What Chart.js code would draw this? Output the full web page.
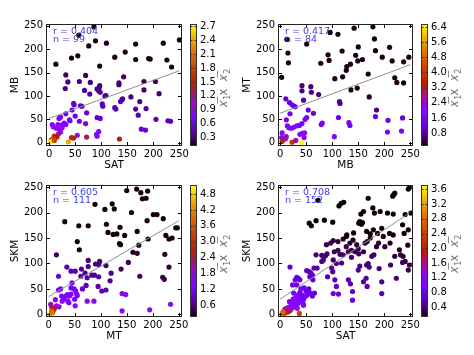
<!DOCTYPE html>
<html><head><meta charset="utf-8">
<script src="https://cdn.jsdelivr.net/npm/chart.js@4/dist/chart.umd.min.js"></script>
<style>
html,body{margin:0;padding:0;background:#fff}
#wrap{position:relative;width:474px;height:355px;overflow:hidden;background:#fff}
#wrap canvas{position:absolute;left:0;top:0}
</style></head><body>
<div id="wrap">
<canvas id="c1" width="474" height="355"></canvas>
<canvas id="c2" width="474" height="355"></canvas>
<canvas id="c3" width="474" height="355"></canvas>
<canvas id="c4" width="474" height="355"></canvas>
</div>
<script>
// ---------- data: [x, y, colour value] ----------
const satMb = [
[86,248,.15],[57,230,.15],[89,218,.15],[76,207,.15],[110,213,.15],[166,211,.15],[219,213,.15],[250,220,.15],[43,181,.15],[55,186,.15],[13,168,.15],[126,183,.15],[146,194,.15],[166,178,.15],[191,180,.15],[194,179,.15],[226,177,.15],[235,162,.15],[97,164,.15],
[32,145,.28],[70,144,.28],[36,130,.32],[58,131,.32],[79,129,.32],[31,116,.38],[97,122,.32],[96,117,.33],[92,115,.36],[95,111,.37],[98,108,.38],[134,128,.32],[134,124,.33],[143,141,.28],[78,104,.42],[68,112,.38],[109,101,.38],[107,100,.38],[157,98,.34],[140,92,.38],[137,88,.42],[141,94,.38],[182,131,.25],[204,131,.25],[211,105,.3],[182,113,.3],[174,88,.34],[186,73,.4],[166,72,.4],[126,75,.45],[128,72,.45],[102,83,.45],[103,78,.45],
[47,84,.55],[48,81,.55],[60,79,.5],[63,78,.5],[44,70,.6],[32,62,.65],[22,55,.72],[19,52,.72],[39,49,.68],[29,42,.75],[26,39,.8],[40,47,.7],[17,39,.85],[6,39,.85],[8,34,.9],[14,31,.9],[25,32,.85],[32,39,.8],[50,57,.62],[58,46,.68],[72,64,.55],[70,41,.68],[92,54,.55],[98,52,.55],[171,59,.45],[205,50,.45],[228,47,.45],[233,46,.45],[177,29,.55],[185,27,.55],
[54,16,1.0],[95,24,.8],[91,18,.9],[92,14,.9],[72,12,1.3],[43,11,1.5],[47,10,1.5],[135,8,1.4],[20,29,.95],[22,23,1.0],[18,19,1.1],[10,14,1.5],[15,12,1.4],[8,9,1.7],[4,6,1.9],[6,5,2.0],[3,2,2.7],[37,2,2.4],[10,5,1.8]
];
const mbMt = [
[178,248,.2],[142,245,.2],[96,236,.2],[111,232,.2],[13,221,.2],[181,222,.2],[51,211,.2],[210,204,.2],[150,205,.2],[15,192,.2],[119,196,.2],[92,188,.2],[145,187,.2],[183,197,.2],[158,178,.2],[149,175,.2],[94,176,.2],[196,183,.2],[215,175,.2],[247,183,.2],[237,173,.2],[16,171,.2],[78,170,.2],[135,168,.2],[128,163,.2],[127,155,.2],[169,147,.2],[120,141,.2],[105,137,.2],[3,140,.2],[220,139,.2],[224,129,.2],[237,128,.2],[148,117,.2],[136,113,.2],[171,98,.25],
[42,122,.6],[59,120,.6],[42,111,.65],[60,108,.65],[74,103,.65],[45,91,.8],[185,70,.7],[114,88,.8],[115,84,.8],
[11,94,1.1],[18,86,1.2],[23,81,1.3],[27,78,1.3],[29,77,1.3],[19,62,1.5],[54,70,1.2],[64,63,1.3],[183,56,1.2],[112,54,1.3],[132,43,1.4],[134,37,1.4],[81,42,1.5],[79,39,1.5],[207,48,1.3],[235,53,1.2],[206,23,1.6],[233,25,1.6],[104,13,1.8],
[51,54,1.5],[48,50,1.5],[42,41,1.7],[37,37,1.7],[32,36,1.7],[26,33,1.8],[21,31,1.8],[17,32,1.8],[12,49,1.6],[14,36,1.8],[47,21,1.9],[46,11,2.1],[38,18,2.0],[43,20,2.0],[4,21,2.0],[3,11,2.2],[12,13,2.3],[10,8,2.6],[4,3,3.6],[23,1,3.9],[30,5,2.6],[41,0,6.5]
];
const mtSkm = [
[150,243,.2],[169,246,.2],[177,239,.2],[190,242,.2],[180,227,.2],[187,228,.2],[89,216,.2],[122,217,.2],[108,206,.2],[126,207,.2],[159,200,.2],[201,196,.2],[208,196,.2],[31,182,.2],[58,174,.2],[76,174,.2],[111,177,.2],[137,171,.2],[189,184,.2],[220,188,.2],[170,163,.2],[114,161,.2],[124,157,.2],[131,158,.2],[146,155,.2],[136,139,.2],[138,137,.2],[191,148,.2],[225,155,.2],[231,148,.2],[237,150,.2],[244,170,.2],[247,170,.2],[173,136,.2],[162,122,.2],[55,143,.2],[59,127,.2],[15,117,.45],[170,120,.3],[223,118,.3],
[231,93,.35],[219,73,.4],[222,69,.4],[175,75,.5],[153,102,.45],[139,89,.5],[98,104,.5],[96,98,.55],[90,99,.55],[110,96,.5],[120,81,.6],[118,66,.65],[102,46,.8],[110,48,.8],[96,74,.65],[83,77,.65],[88,77,.65],[76,106,.55],[76,94,.6],[63,89,.65],[62,75,.7],[70,81,.65],[74,72,.7],[72,57,.8],[65,50,.9],[95,55,.75],[43,85,.8],[35,93,.75],[51,85,.75],[19,75,1.0],
[74,26,1.6],[87,26,1.6],[141,41,1.5],[148,39,1.5],[234,20,1.6],[194,9,1.7],[141,7,1.7],[45,62,1.1],[43,52,1.2],[49,50,1.2],[52,46,1.2],[54,40,1.3],[55,37,1.3],[43,40,1.3],[40,36,1.35],[36,39,1.35],[33,36,1.4],[37,26,1.5],[39,23,1.5],[50,30,1.4],[51,17,1.6],[29,31,1.5],[26,26,1.6],[25,36,1.45],[19,48,1.35],[23,50,1.3],[13,29,1.7],[15,17,1.9],[20,15,1.9],[11,11,2.2],[6,14,2.3],[4,20,2.1],[9,9,2.6],[8,5,3.2],[4,2,4.6],[0,0,5.0],[6,7,3.6],[7,3,4.0]
];
const satSkm = [
[2,1,3.6],[5,3,3.0],[8,2,2.6],[11,4,2.2],[15,5,2.0],[18,7,1.9],[13,8,2.0],[9,10,1.8],[6,6,2.8],[37,2,2.4],[20,9,1.7],[12,12,1.6],
[16,14,1.4],[20,16,1.3],[24,13,1.3],[22,20,1.2],[26,22,1.2],[28,18,1.2],[30,25,1.1],[33,20,1.1],[35,28,1.0],[38,24,1.0],[30,33,1.0],[40,32,.9],[42,38,.9],[45,30,.9],[44,22,1.0],[48,35,.85],[25,30,1.1],[34,38,.95],[18,25,1.2],[26,42,.95],[38,43,.9],[50,45,.8],[52,38,.8],[55,50,.75],[46,52,.8],[40,50,.85],[36,30,1.0],[58,42,.75],[62,36,.75],[66,42,.7],[45,18,1.0],[33,12,1.3],
[19,93,.7],[24,58,.8],[32,58,.8],[38,68,.75],[32,73,.75],[29,68,.8],[35,71,.75],[51,86,.6],[56,84,.6],[59,81,.6],[62,77,.6],[57,74,.65],[63,68,.65],[65,91,.55],[71,91,.55],[80,104,.45],[83,107,.45],[91,74,.55],[102,107,.4],[108,100,.45],[99,91,.5],[101,84,.5],[118,101,.45],[121,117,.4],[137,112,.4],[105,68,.6],[108,55,.7],[102,41,.75],[112,40,.75],[131,68,.55],[135,60,.6],[139,45,.65],[139,28,.75],[160,64,.5],[165,71,.5],[167,55,.55],[150,87,.45],[153,95,.45],[176,114,.35],[180,117,.35],[166,97,.4],[169,100,.4],[171,93,.4],[190,90,.4],[195,64,.45],[212,97,.35],[223,71,.4],[195,41,.55],[248,97,.3],[246,87,.3],[240,104,.3],[235,102,.35],
[69,117,.4],[80,116,.4],[87,115,.4],[90,119,.4],[104,123,.35],[111,126,.35],[115,118,.35],[127,133,.3],[131,123,.3],[137,126,.3],[144,123,.3],[150,129,.3],[151,119,.3],[163,140,.25],[167,143,.25],[173,150,.2],[160,123,.3],[185,133,.25],[189,140,.25],[201,133,.25],[211,140,.2],[220,114,.25],[229,127,.2],[231,117,.25],[236,114,.25],[89,137,.3],[97,140,.3],[102,145,.25],[111,143,.25],[121,148,.2],[127,153,.2],[134,140,.25],[140,146,.2],[147,137,.25],[166,163,.15],[173,158,.15],[179,166,.15],[187,159,.15],[195,169,.15],[198,153,.2],[210,159,.15],[217,156,.15],[235,176,.15],[238,159,.15],[246,166,.15],[245,136,.2],
[73,224,.14],[113,213,.14],[117,218,.14],[122,220,.14],[169,228,.14],[216,232,.14],[218,235,.14],[220,238,.14],[246,246,.14],[248,249,.14],[56,179,.14],[60,174,.14],[69,184,.14],[85,185,.14],[101,181,.14],[151,179,.14],[153,182,.14],[156,177,.14],[158,180,.14],[155,197,.14],[160,202,.14],[178,209,.14],[181,199,.14],[192,202,.14],[206,199,.14],[217,197,.14],[240,196,.14],[251,199,.14],[128,156,.15],[141,160,.15]
];
// fitted lines (y at x = 0 and x = 250)
const lineX = [0, 250];
const fit1 = [52, 154], fit2 = [63, 167], fit3 = [35, 184], fit4 = [30, 200];
const stats1 = ['r = 0.404', 'n = 99'], stats2 = ['r = 0.417', 'n = 84'];
const stats3 = ['r = 0.605', 'n = 111'], stats4 = ['r = 0.708', 'n = 152'];
const axisTicks = [0, 50, 100, 150, 200, 250];
const cbTicks1 = [0.3,0.6,0.9,1.2,1.5,1.8,2.1,2.4,2.7], cbRange1 = [0.12, 2.75];
const cbTicks2 = [0.8,1.6,2.4,3.2,4.0,4.8,5.6,6.4], cbRange2 = [0.12, 6.56];
const cbTicks3 = [0.6,1.2,1.8,2.4,3.0,3.6,4.2,4.8], cbRange3 = [0.16, 5.14];
const cbTicks4 = [0.4,0.8,1.2,1.6,2.0,2.4,2.8,3.2,3.6], cbRange4 = [0.13, 3.72];

// ---------- drawing ----------
function gnuplot(t){
  t = Math.max(0, Math.min(1, t));
  const r = Math.sqrt(t), g = t*t*t, b = Math.max(0, Math.sin(2*Math.PI*t));
  return 'rgb(' + Math.round(r*255) + ',' + Math.round(g*255) + ',' + Math.round(b*255) + ')';
}
const FONT = 'DejaVu Sans';

function drawCbLabel(ctx, cx, cy){
  ctx.save();
  ctx.translate(cx, cy);
  ctx.rotate(-Math.PI/2);
  ctx.fillStyle = '#707070';
  ctx.strokeStyle = '#707070';
  ctx.lineWidth = 0.8;
  ctx.textBaseline = 'alphabetic';
  const big = 'italic 11.5px ' + FONT, sub = '8px ' + FONT, mid = '11.5px ' + FONT;
  const parts = [[big,'x',0,true],[sub,'1',2.5,false],[mid,' x ',0,false],[big,'x',0,true],[sub,'2',2.5,false]];
  let w = 0;
  parts.forEach(p => { ctx.font = p[0]; p.push(ctx.measureText(p[1]).width); w += p[4]; });
  let x = -w/2;
  const base = 4;
  parts.forEach(p => {
    ctx.font = p[0];
    ctx.fillText(p[1], x, base + p[2]);
    if (p[3]) { ctx.beginPath(); ctx.moveTo(x+0.5, base-9.5); ctx.lineTo(x+p[4]+0.5, base-9.5); ctx.stroke(); }
    x += p[4];
  });
  ctx.restore();
}

function panel(id, pts, fit, stats, cbRange, cbTicks, xTitle, yTitle, geom, xRange, yRange){
  const norm = c => (c - cbRange[0]) / (cbRange[1] - cbRange[0]);
  const deco = {
    id: 'deco',
    afterDatasetsDraw(chart){
      const ctx = chart.ctx, a = chart.chartArea, xs = chart.scales.x, ys = chart.scales.y, cs = chart.scales.cb;
      ctx.save();
      ctx.strokeStyle = '#000'; ctx.lineWidth = 1;
      ctx.beginPath();
      axisTicks.forEach(v => {
        const px = Math.round(xs.getPixelForValue(v)) + 0.5;
        ctx.moveTo(px, a.bottom); ctx.lineTo(px, a.bottom - 4);
        ctx.moveTo(px, a.top); ctx.lineTo(px, a.top + 4);
        const py = Math.round(ys.getPixelForValue(v)) + 0.5;
        ctx.moveTo(a.left, py); ctx.lineTo(a.left + 4, py);
        ctx.moveTo(a.right, py); ctx.lineTo(a.right - 4, py);
      });
      ctx.stroke();
      ctx.strokeStyle = '#222';
      ctx.strokeRect(a.left + 0.5, a.top + 0.5, a.right - a.left - 1, a.bottom - a.top - 1);
      // stats
      ctx.fillStyle = 'rgb(64,64,235)';
      ctx.font = '9.5px ' + FONT;
      ctx.textBaseline = 'alphabetic'; ctx.textAlign = 'left';
      ctx.fillText(stats[0], a.left + 7, a.top + 9.5);
      ctx.fillText(stats[1], a.left + 7, a.top + 18);
      // colorbar
      const cbL = a.right + 8, cbW = 7;
      for (let py = Math.floor(a.top); py < a.bottom; py++){
        ctx.fillStyle = gnuplot(norm(cs.getValueForPixel(py + 0.5)));
        ctx.fillRect(cbL, py, cbW, 1);
      }
      ctx.strokeStyle = '#333';
      ctx.strokeRect(cbL + 0.5, a.top + 0.5, cbW - 1, a.bottom - a.top - 1);
      ctx.beginPath();
      cbTicks.forEach(v => {
        const py = Math.round(cs.getPixelForValue(v)) + 0.5;
        ctx.moveTo(cbL + cbW, py); ctx.lineTo(cbL + cbW - 2.5, py);
        ctx.moveTo(cbL, py); ctx.lineTo(cbL + 2.5, py);
      });
      ctx.stroke();
      // titles
      ctx.fillStyle = '#000';
      ctx.font = '10.5px ' + FONT;
      ctx.textAlign = 'center'; ctx.textBaseline = 'alphabetic';
      ctx.fillText(xTitle, (a.left + a.right) / 2, a.bottom + 22);
      ctx.save();
      ctx.translate(a.left - 31, (a.top + a.bottom) / 2);
      ctx.rotate(-Math.PI/2);
      ctx.textBaseline = 'middle';
      ctx.fillText(yTitle, 0, 0);
      ctx.restore();
      drawCbLabel(ctx, a.right + 41, (a.top + a.bottom) / 2);
      ctx.restore();
    }
  };
  const tickFont = {family: FONT, size: 10};
  new Chart(document.getElementById(id), {
    type: 'scatter',
    data: {
      datasets: [
        {data: lineX.map((x, i) => ({x: x, y: fit[i]})), showLine: true, borderColor: '#8f8f8f', borderWidth: 1, pointRadius: 0, order: 0},
        {data: pts.map(p => ({x: p[0], y: p[1]})), pointRadius: 2.6, pointBorderWidth: 0,
         pointBackgroundColor: pts.map(p => gnuplot(norm(p[2]))), order: 1}
      ]
    },
    options: {
      responsive: false, animation: false, devicePixelRatio: 1,
      layout: {padding: {left: geom.l - 40, right: 474 - geom.r - 40, top: geom.t, bottom: 355 - geom.b - 20}},
      plugins: {legend: {display: false}, tooltip: {enabled: false}},
      scales: {
        x: {type: 'linear', position: 'bottom', min: xRange[0], max: xRange[1],
            afterBuildTicks: s => { s.ticks = axisTicks.map(v => ({value: v})); },
            afterFit: s => { s.height = 20; },
            grid: {display: false, drawTicks: false}, border: {display: false},
            ticks: {padding: 2, color: '#000', font: tickFont, maxRotation: 0, autoSkip: false}},
        y: {type: 'linear', position: 'left', min: yRange[0], max: yRange[1],
            afterBuildTicks: s => { s.ticks = axisTicks.map(v => ({value: v})); },
            afterFit: s => { s.width = 40; },
            grid: {display: false, drawTicks: false}, border: {display: false},
            ticks: {padding: 3, color: '#000', font: tickFont, autoSkip: false}},
        cb: {type: 'linear', position: 'right', min: cbRange[0], max: cbRange[1],
            afterBuildTicks: s => { s.ticks = cbTicks.map(v => ({value: v})); },
            afterFit: s => { s.width = 40; },
            grid: {display: false, drawTicks: false}, border: {display: false},
            ticks: {padding: 18, color: '#000', font: tickFont, autoSkip: false, callback: v => v.toFixed(1)}}
      }
    },
    plugins: [deco]
  });
}

panel('c1', satMb, fit1, stats1, cbRange1, cbTicks1, 'SAT', 'MB', {l:46,t:13,r:182,b:146}, [-6,255], [-7,254]);
panel('c2', mbMt, fit2, stats2, cbRange2, cbTicks2, 'MB', 'MT', {l:278,t:13,r:413,b:146}, [-4,255], [-7,254]);
panel('c3', mtSkm, fit3, stats3, cbRange3, cbTicks3, 'MT', 'SKM', {l:46,t:185,r:182,b:317}, [-5,256], [-5,254]);
panel('c4', satSkm, fit4, stats4, cbRange4, cbTicks4, 'SAT', 'SKM', {l:278,t:185,r:413,b:317}, [-4,255], [-5,254]);
</script>
</body></html>
